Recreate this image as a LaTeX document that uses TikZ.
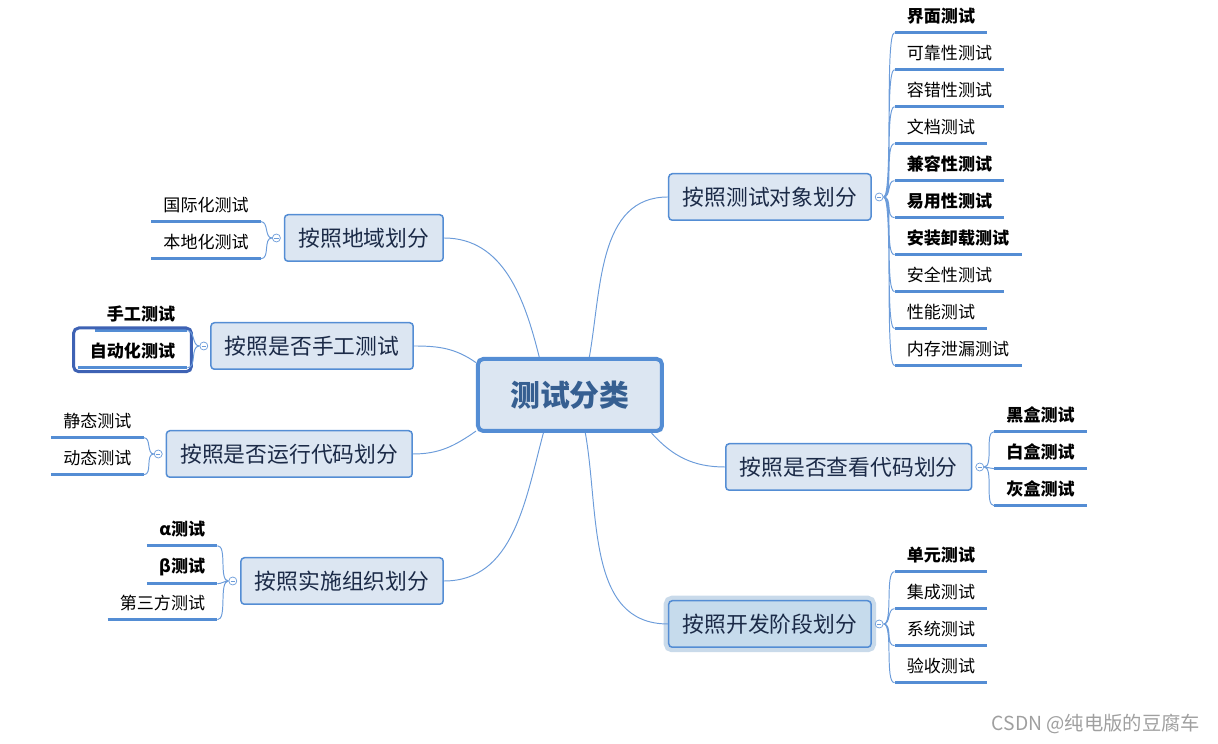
\documentclass[tikz,border=0pt]{standalone}
\usepackage{fontspec}
\setmainfont{Noto Sans CJK SC}
\usetikzlibrary{positioning}
\definecolor{boxfill}{HTML}{DCE6F2}
\definecolor{boxline}{HTML}{548DD4}
\definecolor{rootText}{HTML}{365F91}
\definecolor{topicText}{HTML}{1B2A47}
\definecolor{linkblue}{HTML}{6C9CDA}
\definecolor{stageFill}{HTML}{C6DBEC}
\definecolor{haloBlue}{HTML}{C9DAEA}
\definecolor{selBlue}{HTML}{3E62B4}
\tikzset{
    root/.style={rectangle, rounded corners=3pt, draw=boxline, fill=boxfill, line width=0.08cm, minimum width=3.68cm, minimum height=1.44cm, text=rootText, font=\fontsize{17}{20}\selectfont\bfseries},
    topic/.style={rectangle, rounded corners=2pt, draw=boxline, fill=boxfill, line width=0.03cm, inner xsep=0.28cm, minimum height=0.93cm, text=topicText, font=\fontsize{12.4}{15}\selectfont},
    stagebox/.style={fill=stageFill, preaction={draw=haloBlue, line width=0.2cm}},
    knob/.style={circle, draw=linkblue, fill=white, line width=0.4pt, inner sep=0pt, minimum size=0.16cm, path picture={\draw[linkblue, line width=0.4pt] ([xshift=1pt]path picture bounding box.west) -- ([xshift=-1pt]path picture bounding box.east);}},
    uline/.style={draw=boxline, line width=0.06cm},
    leaf/.style={inner xsep=0.24cm, inner ysep=0pt, minimum height=0.64cm, font=\fontsize{9.7}{12}\selectfont, append after command={(\tikzlastnode.south west) edge[uline] (\tikzlastnode.south east)}},
    keyleaf/.style={leaf, font=\fontsize{9.7}{12}\selectfont\bfseries},
    selbox/.style={draw=selBlue, line width=0.06cm, rounded corners=3pt},
    link/.style={draw=linkblue, line width=0.55pt},
    twigR/.style={link, out=0, in=180, max distance=0.2cm},
    twigL/.style={link, out=180, in=0, max distance=0.2cm},
    watermark/.style={text=gray!75, font=\fontsize{11}{13}\selectfont}
}

\begin{document}
\begin{tikzpicture}
		\useasboundingbox (-11.4,-6.98) rectangle (12.96,7.9);
		
		% --- Trung tâm ---
		\node[root] (root) {测试分类};
		
		% --- Các nhánh chính ---
		\node[topic, above right=2.72cm and 0.08cm of root] (obj) {按照测试对象划分};
		\node[topic, below right=0.2cm and 1.22cm of root] (code) {按照是否查看代码划分};
		\node[topic, stagebox, below right=3.34cm and 0.08cm of root] (stage) {按照开发阶段划分};
		\node[topic, above left=1.9cm and 0.64cm of root] (region) {按照地域划分};
		\node[topic, above left=-0.26cm and 1.24cm of root] (manual) {按照是否手工测试};
		\node[topic, below left=-0.06cm and 1.26cm of root] (run) {按照是否运行代码划分};
		\node[topic, below left=2.48cm and 0.64cm of root] (org) {按照实施组织划分};
		
		\draw[link] (root.129) to[out=104, in=0] (region.east);
		\draw[link] (root.63) to[out=80, in=180] (obj.west);
		\draw[link] (root.161) to[out=145, in=0] (manual.east);
		\draw[link] (root.201.5) to[out=215, in=0] (run.east);
		\draw[link] (root.235.6) to[out=255, in=0] (org.east);
		\draw[link] (root.292.8) to[out=280, in=180] (stage.west);
		\draw[link] (root.335.7) to[out=312, in=180] (code.west);
		
		% Nhánh đối tượng
		\node[knob, right=0.06cm of obj] (obj-k) {};
		\node[keyleaf, below right=-0.24cm and 0.22cm of obj-k.east] (ease) {易用性测试};
		\node[keyleaf, above right=0.086cm and 0cm of ease.north west] (compat) {兼容性测试};
		\node[leaf, above right=0.086cm and 0cm of compat.north west] (doc) {文档测试};
		\node[leaf, above right=0.086cm and 0cm of doc.north west] (fault) {容错性测试};
		\node[leaf, above right=0.086cm and 0cm of fault.north west] (reli) {可靠性测试};
		\node[keyleaf, above right=0.086cm and 0cm of reli.north west] (ui) {界面测试};
		\node[keyleaf, below right=0.086cm and 0cm of ease.south west] (install) {安装卸载测试};
		\node[leaf, below right=0.086cm and 0cm of install.south west] (safe) {安全性测试};
		\node[leaf, below right=0.086cm and 0cm of safe.south west] (perf) {性能测试};
		\node[leaf, below right=0.086cm and 0cm of perf.south west] (leak) {内存泄漏测试};
		\draw[twigR] (obj-k.east) to (ui.south west) (obj-k.east) to (reli.south west)
			(obj-k.east) to (fault.south west) (obj-k.east) to (doc.south west)
			(obj-k.east) to (compat.south west) (obj-k.east) to (ease.south west)
			(obj-k.east) to (install.south west) (obj-k.east) to (safe.south west)
			(obj-k.east) to (perf.south west) (obj-k.east) to (leak.south west);
		
		% Nhánh xem mã
		\node[knob, right=0.06cm of code] (code-k) {};
		\node[keyleaf, below right=-0.62cm and 0.2cm of code-k.east] (whitebox) {白盒测试};
		\node[keyleaf, above right=0.086cm and 0cm of whitebox.north west] (blackbox) {黑盒测试};
		\node[keyleaf, below right=0.086cm and 0cm of whitebox.south west] (greybox) {灰盒测试};
		\draw[twigR] (code-k.east) to (blackbox.south west) (code-k.east) to (whitebox.south west)
			(code-k.east) to (greybox.south west);
		
		% Nhánh giai đoạn
		\node[knob, right=0.06cm of stage] (stage-k) {};
		\node[leaf, below right=-0.22cm and 0.22cm of stage-k.east] (system) {系统测试};
		\node[leaf, above right=0.086cm and 0cm of system.north west] (integ) {集成测试};
		\node[keyleaf, above right=0.086cm and 0cm of integ.north west] (unit) {单元测试};
		\node[leaf, below right=0.086cm and 0cm of system.south west] (accept) {验收测试};
		\draw[twigR] (stage-k.east) to (unit.south west) (stage-k.east) to (integ.south west)
			(stage-k.east) to (system.south west) (stage-k.east) to (accept.south west);
		
		% Nhánh khu vực
		\node[knob, left=0.06cm of region] (region-k) {};
		\node[leaf, below left=-0.24cm and 0.22cm of region-k.west] (local) {本地化测试};
		\node[leaf, above left=0.086cm and 0cm of local.north east] (intl) {国际化测试};
		\draw[twigL] (region-k.west) to (intl.south east) (region-k.west) to (local.south east);
		
		% Nhánh thủ công
		\node[knob, left=0.04cm of manual] (manual-k) {};
		\node[keyleaf, below left=-0.22cm and 0.24cm of manual-k.west] (auto) {自动化测试};
		\node[keyleaf, above left=0.086cm and 0cm of auto.north east] (hand) {手工测试};
		\draw[selbox] ([shift={(-0.08cm,0.14cm)}]auto.north west) rectangle ([shift={(0.08cm,-0.08cm)}]auto.south east);
		\draw[twigL] (manual-k.west) to (hand.south east) (manual-k.west) to (auto.south east);
		
		% Nhánh chạy mã
		\node[knob, left=0.06cm of run] (run-k) {};
		\node[leaf, below left=-0.24cm and 0.2cm of run-k.west] (dynamic) {动态测试};
		\node[leaf, above left=0.086cm and 0cm of dynamic.north east] (static) {静态测试};
		\draw[twigL] (run-k.west) to (static.south east) (run-k.west) to (dynamic.south east);
		
		% Nhánh tổ chức
		\node[knob, left=0.06cm of org] (org-k) {};
		\node[keyleaf, below left=-0.6cm and 0.22cm of org-k.west] (beta) {β测试};
		\node[keyleaf, above left=0.106cm and 0cm of beta.north east] (alpha) {α测试};
		\node[leaf, below left=0.066cm and 0cm of beta.south east] (third) {第三方测试};
		\draw[twigL] (org-k.west) to (alpha.south east) (org-k.west) to (beta.south east)
			(org-k.west) to (third.south east);
		
		\node[watermark] (csdn) at (10.52,-6.58) {CSDN @纯电版的豆腐车};
		
	\end{tikzpicture}
\end{document}
